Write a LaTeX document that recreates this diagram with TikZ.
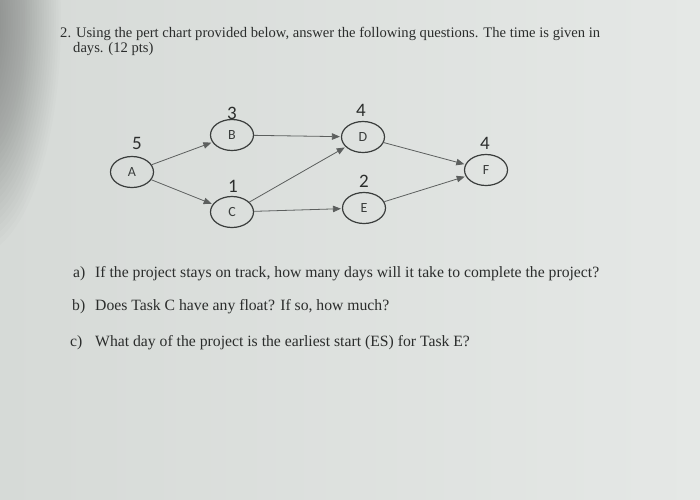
\documentclass[tikz,border=0pt]{standalone}
\usepackage{fontspec}
\setmainfont{Liberation Serif}
\newfontfamily\chartfont{Carlito}
\usetikzlibrary{shapes.geometric,arrows.meta}
\definecolor{paperL}{HTML}{D6DAD7}
\definecolor{paperR}{HTML}{E5E8E6}
\definecolor{ink}{HTML}{2B2D2C}
\definecolor{nodeink}{HTML}{3A3D3C}
\definecolor{edgeink}{HTML}{5C5F5E}
\tikzset{
  task/.style={ellipse, draw=nodeink, line width=1.2pt, minimum width=43pt, minimum height=31pt, inner sep=0pt, font=\chartfont\fontsize{14}{14}\selectfont, text=nodeink},
  dur/.style={font=\chartfont\fontsize{19}{19}\selectfont, text=ink, inner sep=0pt},
  link/.style={draw=edgeink, line width=0.8pt, -{Triangle[length=8pt,width=6.5pt]}, shorten >=1pt},
  body/.style={font=\fontsize{14.6}{14.6}\selectfont, text=ink, inner sep=0pt, anchor=base west},
  qbody/.style={font=\fontsize{15.7}{15.7}\selectfont, text=ink, inner sep=0pt, anchor=base west}
}
\begin{document}
\begin{tikzpicture}[x=1pt,y=-1pt]
\useasboundingbox (0,0) rectangle (700,499);
\shade[left color=paperL, right color=paperR] (0,0) rectangle (700,499);
% soft shadow in upper-left corner
\foreach \i in {1,...,30}{
  \fill[black, opacity=0.013] (-25,20) ellipse ({14+2.4*\i} and {40+6.5*\i});
}
% text
\node[body] (t1) at (60,37) {2. Using the pert chart provided below, answer the following questions. The time is given in};
\node[body] (t2) at (73,52) {days. (12 pts)};
% nodes
\node[task] (A) at (132,172) {A};
\node[task] (B) at (232,135) {B};
\node[task] (C) at (232,212) {C};
\node[task] (D) at (363,137) {D};
\node[task] (E) at (364,208) {E};
\node[task] (F) at (486,170) {F};
% durations
\node[dur] (dA) at (137,143) {5};
\node[dur] (dB) at (232,113) {3};
\node[dur] (dD) at (361,110) {4};
\node[dur] (dF) at (485,143) {4};
\node[dur] (dC) at (233,186) {1};
\node[dur] (dE) at (364,181) {2};
% links
\draw[link] (A) -- (B);
\draw[link] (A) -- (C);
\draw[link] (B) -- (D);
\draw[link] (C) -- (D);
\draw[link] (C) -- (E);
\draw[link] (D) -- (F);
\draw[link] (E) -- (F);
% questions
\node[qbody] (qa) at (73,277) {a)};
\node[qbody] (qat) at (95,277) {If the project stays on track, how many days will it take to complete the project?};
\node[qbody] (qb) at (72,310) {b)};
\node[qbody] (qbt) at (95,310) {Does Task C have any float? If so, how much?};
\node[qbody] (qc) at (70,346) {c)};
\node[qbody] (qct) at (95,346) {What day of the project is the earliest start (ES) for Task E?};
\end{tikzpicture}
\end{document}
